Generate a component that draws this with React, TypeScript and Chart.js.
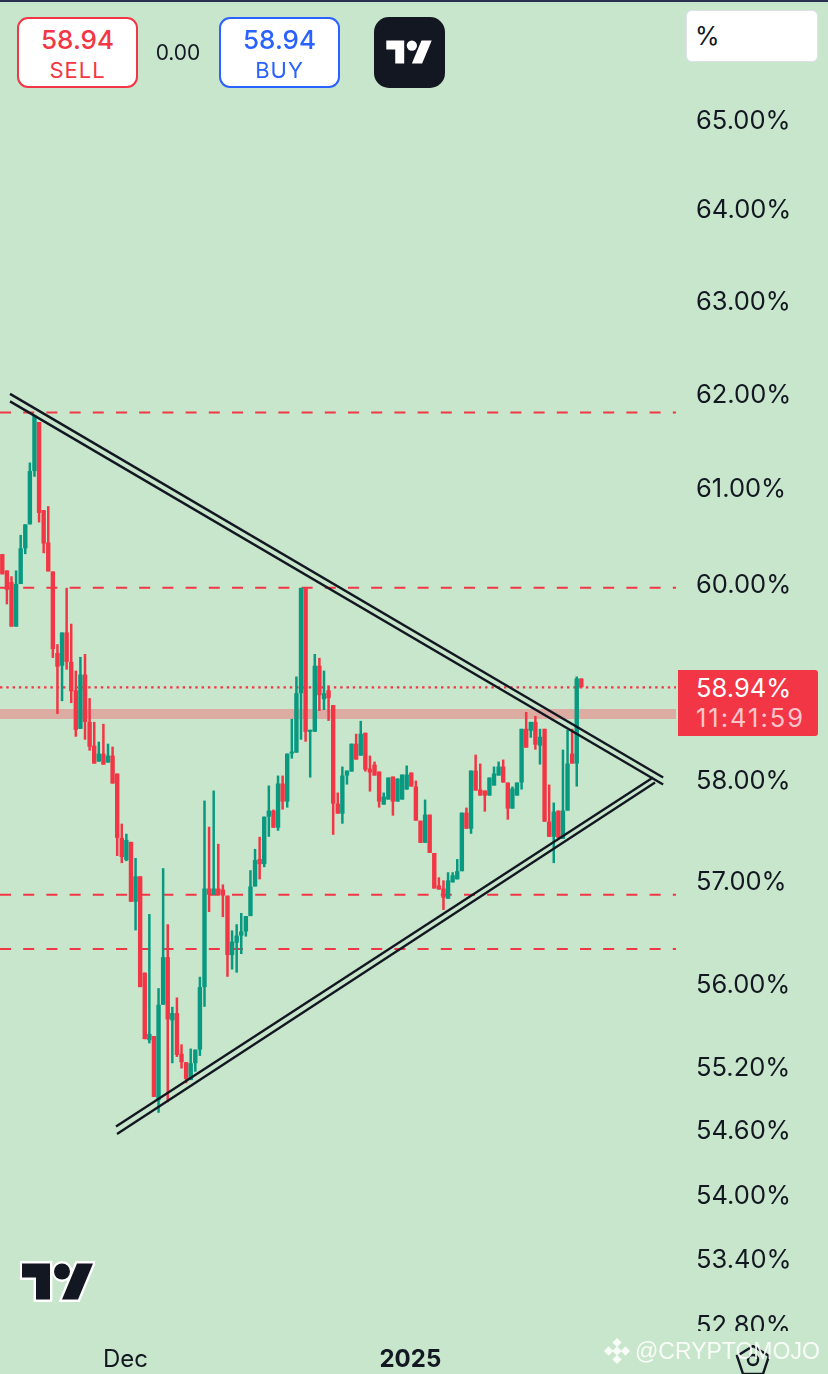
import React, { useEffect, useRef } from 'react';
import Chart from 'chart.js/auto';

// 12h candles
const opens = [
  60.31,60.14,60.02,59.56,60.00,60.37,60.62,61.18,61.70,60.77,
  60.43,60.13,59.29,59.16,59.50,59.20,58.91,58.52,59.07,58.59,
  58.35,58.19,58.27,58.18,58.25,58.07,57.43,57.21,57.39,56.80,
  57.05,56.11,55.46,55.50,54.89,55.80,56.26,55.65,55.72,55.33,
  55.25,55.08,55.24,55.37,55.97,56.93,56.87,56.93,56.92,56.86,
  56.28,56.40,56.47,56.51,56.66,56.95,57.22,57.17,57.64,57.70,
  57.53,57.97,57.79,58.27,58.28,58.88,59.96,58.49,58.49,59.16,
  58.82,58.91,58.76,57.77,57.67,58.05,58.09,58.37,58.25,58.48,
  58.12,58.16,58.09,57.76,57.81,58.04,57.79,57.81,57.91,58.08,
  57.94,57.60,57.38,57.66,57.28,56.96,56.93,56.83,56.99,57.02,
  57.10,57.68,57.52,58.10,57.91,57.90,57.85,57.95,58.05,58.14,
  57.98,57.72,57.85,57.98,58.52,58.50,58.59,58.35,58.52,57.59,
  57.44,57.70,57.42,57.70,58.27,58.17,59.03,
];
const highs = [
  60.31,60.14,60.08,60.14,60.51,60.62,61.27,61.77,61.70,60.77,
  60.81,60.13,59.38,59.50,59.96,59.59,59.11,59.25,59.28,58.83,
  58.59,58.39,58.57,58.37,58.34,58.07,57.57,57.47,57.39,57.23,
  57.05,56.11,56.68,55.50,55.96,57.13,56.58,55.78,55.87,55.42,
  55.25,55.38,55.37,56.07,57.80,57.54,57.90,57.37,56.97,56.86,
  56.52,56.58,56.69,56.66,57.11,57.32,57.44,57.64,57.95,57.71,
  58.05,58.05,58.27,58.62,59.05,59.96,59.96,58.51,59.28,59.24,
  59.11,58.96,58.76,57.88,58.14,58.10,58.37,58.47,58.60,58.48,
  58.25,58.19,58.09,57.88,58.03,58.04,58.02,58.06,58.15,58.08,
  58.00,57.60,57.81,57.66,57.28,57.04,57.01,57.09,57.09,57.22,
  57.68,57.73,58.10,58.26,58.17,57.90,58.03,58.14,58.19,58.21,
  57.98,57.94,57.98,58.52,58.69,58.59,58.65,58.52,58.52,57.96,
  57.78,57.70,58.31,58.51,58.52,59.05,59.03,
];
const lows = [
  60.10,59.79,59.56,59.56,60.00,60.31,60.62,61.12,60.64,60.32,
  60.13,59.24,58.67,58.80,59.12,58.78,58.44,58.52,58.41,58.30,
  58.17,58.19,58.16,58.18,57.97,57.25,57.18,57.20,56.80,56.52,
  55.97,55.47,55.43,54.92,54.77,55.80,54.87,55.24,55.30,55.19,
  55.05,55.08,55.16,55.31,55.78,56.70,56.87,56.87,56.65,56.07,
  56.14,56.11,56.29,56.46,56.66,56.95,57.02,57.14,57.44,57.53,
  57.50,57.71,57.73,58.22,58.28,58.41,58.39,58.03,58.49,58.70,
  58.71,58.60,57.46,57.67,57.57,57.96,58.09,58.21,58.25,58.09,
  57.89,58.05,57.73,57.76,57.81,57.65,57.79,57.81,57.91,57.94,
  57.60,57.38,57.38,57.28,56.93,56.92,56.72,56.83,56.99,57.02,
  57.10,57.52,57.47,57.90,57.85,57.69,57.85,57.95,58.05,57.98,
  57.61,57.72,57.85,57.91,58.33,58.43,58.31,58.16,57.59,57.44,
  57.18,57.43,57.42,57.70,58.17,57.94,58.94,
];
const closes = [
  60.10,59.94,59.56,60.00,60.37,60.62,61.18,61.77,60.74,60.42,
  60.13,59.33,59.15,59.50,59.20,58.90,58.51,59.07,58.59,58.34,
  58.17,58.27,58.16,58.25,57.97,57.43,57.24,57.41,56.80,57.05,
  55.97,55.47,55.52,54.92,55.80,56.26,55.66,55.72,55.32,55.25,
  55.09,55.24,55.37,55.97,56.93,56.87,56.93,56.87,56.86,56.28,
  56.41,56.47,56.51,56.66,56.95,57.21,57.17,57.64,57.70,57.53,
  57.97,57.79,58.27,58.28,58.88,59.96,58.49,58.51,59.16,58.86,
  58.88,58.83,57.77,57.67,58.05,58.10,58.37,58.21,58.47,58.11,
  58.08,58.05,57.79,57.84,58.03,57.79,58.02,58.06,58.06,57.94,
  57.60,57.38,57.66,57.28,56.93,56.92,56.84,57.01,57.06,57.10,
  57.68,57.52,58.10,57.90,57.85,57.85,58.03,58.07,58.14,57.98,
  57.72,57.92,57.98,58.52,58.33,58.59,58.36,58.44,57.59,57.44,
  57.69,57.43,57.70,58.17,58.17,59.03,58.94,
];

const yTicks = [65, 64, 63, 62, 61, 60, 58, 57, 56, 55.2, 54.6, 54, 53.4, 52.8];
const xTickValues = [26.8, 88.8];
const xTickLabels = ['Dec', '2025'];

const dashedLevels = [61.8, 59.96, 56.87, 56.34];
const lastPrice = 58.94;
const zoneLevel = 58.67;

// [candle index, price] end points of the two double trend lines
const trendLines = [
  [[1.68, 62.0], [143.8, 58.03]],
  [[1.68, 61.92], [143.8, 57.96]],
  [[24.74, 54.64], [141.6, 58.03]],
  [[24.96, 54.57], [142.04, 57.98]],
];

const X_MIN = -0.5;
const X_MAX = 146.6;
const Y_MIN = 52.747;
const Y_MAX = 66.358;

const BG = '#c8e6cb';
const GREEN = '#089981';
const RED = '#f23645';
const INK = '#131722';
const FONT = 'Inter, "Noto Sans", sans-serif';

const candleColors = closes.map((c, i) => (c >= opens[i] ? GREEN : RED));

const flatLine = (y: number) => [{ x: X_MIN, y }, { x: X_MAX, y }];

// hides the part of the price labels that falls under the time axis
const timeAxisStrip = {
  id: 'timeAxisStrip',
  afterDatasetsDraw(chart: Chart) {
    const { ctx, chartArea } = chart;
    ctx.save();
    ctx.fillStyle = BG;
    ctx.fillRect(0, chartArea.bottom, chart.width, chart.height - chartArea.bottom);
    ctx.restore();
  },
};

const box = (style: React.CSSProperties): React.CSSProperties => ({
  position: 'absolute',
  boxSizing: 'border-box',
  fontFamily: FONT,
  ...style,
});

const TvLogo: React.FC<{ style: React.CSSProperties; fill: string; outline?: string }> = ({ style, fill, outline }) => (
  <svg viewBox="-1 3 37.5 20" style={{ position: 'absolute', ...style }}>
    <g fill={fill} stroke={outline || 'none'} strokeWidth={outline ? 2.4 : 0} paintOrder="stroke">
      <path d="M14 22H7V11H0V4h14v18z" />
      <path d="M28 22h-8l7.5-18h8L28 22z" />
      <circle cx="20" cy="8" r="4" />
    </g>
  </svg>
);

const QuoteButton: React.FC<{ left: number; color: string; label: string }> = ({ left, color, label }) => (
  <div
    style={box({
      left,
      top: 17,
      width: 121,
      height: 71,
      background: '#fff',
      border: `2px solid ${color}`,
      borderRadius: 11,
      color,
      textAlign: 'center',
    })}
  >
    <div style={{ fontSize: 26, fontWeight: 500, lineHeight: '30px', marginTop: 6 }}>{lastPrice.toFixed(2)}</div>
    <div style={{ fontSize: 22, letterSpacing: 1, lineHeight: '26px', marginTop: 2 }}>{label}</div>
  </div>
);

const App: React.FC = () => {
  const canvasRef = useRef<HTMLCanvasElement | null>(null);

  useEffect(() => {
    const ctx = canvasRef.current?.getContext('2d');
    if (!ctx) return;

    const lineStyle = { type: 'line' as const, pointRadius: 0, fill: false, tension: 0 };

    const chart = new Chart(ctx, {
      type: 'bar',
      data: {
        datasets: [
          {
            ...lineStyle,
            data: flatLine(zoneLevel),
            borderColor: '#dcaca2',
            borderWidth: 10,
            order: 6,
          },
          ...dashedLevels.map((level) => ({
            ...lineStyle,
            data: flatLine(level),
            borderColor: RED,
            borderWidth: 2,
            borderDash: [11, 12.2],
            order: 5,
          })),
          {
            ...lineStyle,
            data: flatLine(lastPrice),
            borderColor: RED,
            borderWidth: 2.4,
            borderDash: [2.4, 3.9],
            order: 5,
          },
          {
            data: highs.map((h, i) => ({ x: i, y: [lows[i], h] })),
            backgroundColor: candleColors,
            barThickness: 2.5,
            grouped: false,
            inflateAmount: 0,
            order: 3,
          },
          {
            data: opens.map((o, i) => ({ x: i, y: [o, closes[i]] })),
            backgroundColor: candleColors,
            barThickness: 4.4,
            minBarLength: 2,
            grouped: false,
            inflateAmount: 0,
            order: 2,
          },
          ...trendLines.map((line) => ({
            ...lineStyle,
            data: line.map(([x, y]) => ({ x, y })),
            borderColor: INK,
            borderWidth: 2.4,
            order: 1,
          })),
        ] as any,
      },
      options: {
        animation: false,
        responsive: false,
        layout: { padding: 0 },
        plugins: { legend: { display: false }, tooltip: { enabled: false } },
        scales: {
          x: {
            type: 'linear',
            offset: false,
            min: X_MIN,
            max: X_MAX,
            grid: { display: false, drawTicks: false },
            border: { display: false },
            afterBuildTicks: (scale: any) => {
              scale.ticks = xTickValues.map((value) => ({ value }));
            },
            afterFit: (scale: any) => {
              scale.height = 43;
              scale.paddingLeft = 0;
              scale.paddingRight = 0;
            },
            ticks: {
              z: 1,
              autoSkip: false,
              maxRotation: 0,
              padding: 14,
              color: INK,
              font: (c: any) => ({ family: FONT, size: 24, weight: c.index === 1 ? 'bold' : 'normal' }),
              callback: (_v: any, i: number) => xTickLabels[i],
            },
          },
          y: {
            type: 'logarithmic',
            position: 'right',
            beginAtZero: false,
            min: Y_MIN,
            max: Y_MAX,
            grid: { display: false, drawTicks: false },
            border: { display: false },
            afterBuildTicks: (scale: any) => {
              scale.ticks = yTicks.map((value) => ({ value }));
            },
            afterFit: (scale: any) => {
              scale.width = 152;
              scale.paddingTop = 0;
              scale.paddingBottom = 0;
            },
            ticks: {
              autoSkip: false,
              padding: 20,
              labelOffset: 1,
              color: INK,
              font: { family: FONT, size: 25.5 },
              callback: (v: any) => `${Number(v).toFixed(2)}%`,
            },
          },
        },
      },
      plugins: [timeAxisStrip],
    } as any);

    return () => chart.destroy();
  }, []);

  return (
    <div style={{ position: 'absolute', left: 0, top: 0, width: 828, height: 1374, background: BG, overflow: 'hidden' }}>
      <canvas ref={canvasRef} width={828} height={1374} style={{ position: 'absolute', left: 0, top: 0 }} />
      <div style={box({ left: 0, top: 0, width: 828, height: 2, background: '#2a2e50' })} />

      <QuoteButton left={17} color={RED} label="SELL" />
      <div style={box({ left: 140, top: 40, width: 76, textAlign: 'center', fontSize: 21, lineHeight: '26px', color: INK })}>
        0.00
      </div>
      <QuoteButton left={219} color="#2962ff" label="BUY" />
      <div style={box({ left: 374, top: 17, width: 71, height: 71, borderRadius: 15, background: INK })} />
      <TvLogo fill="#fff" style={{ left: 385, top: 39, width: 48, height: 26 }} />

      <div
        style={box({
          left: 686,
          top: 10,
          width: 132,
          height: 52,
          background: '#fff',
          border: '1px solid #dfdfee',
          borderRadius: 6,
          paddingLeft: 8,
          fontSize: 25,
          lineHeight: '50px',
          color: INK,
        })}
      >
        %
      </div>

      <div
        style={box({
          left: 678,
          top: 670,
          width: 140,
          height: 66,
          background: RED,
          borderRadius: '0 3px 3px 0',
          paddingLeft: 18,
          fontSize: 25.5,
          lineHeight: '30px',
          color: '#fff',
        })}
      >
        <div style={{ marginTop: 3 }}>{lastPrice.toFixed(2)}%</div>
        <div style={{ color: '#fbc6cb', letterSpacing: 2 }}>11:41:59</div>
      </div>

      <TvLogo fill={INK} outline="#fff" style={{ left: 20, top: 1261, width: 75, height: 41 }} />

      <svg viewBox="0 0 36 30" style={{ position: 'absolute', left: 735, top: 1345, width: 36, height: 30 }}>
        <path d="M18 1L34 11L28 29H8L2 11Z" fill="none" stroke={INK} strokeWidth="2.4" />
        <circle cx="18" cy="15" r="5" fill="none" stroke={INK} strokeWidth="2.4" />
      </svg>
      <svg viewBox="0 0 30 30" style={{ position: 'absolute', left: 603, top: 1337, width: 28, height: 28 }}>
        <path
          d="M15 1l5 5-5 5-5-5zM6 10l5 5-5 5-5-5zM24 10l5 5-5 5-5-5zM15 10l5 5-5 5-5-5zM15 19l5 5-5 5-5-5z"
          fill="rgba(255,255,255,0.85)"
        />
      </svg>
      <div
        style={box({
          left: 635,
          top: 1336,
          fontSize: 23,
          lineHeight: '30px',
          color: 'rgba(255,255,255,0.88)',
          whiteSpace: 'nowrap',
          fontFamily: '"Liberation Sans", sans-serif',
        })}
      >
        @CRYPTOMOJO
      </div>
    </div>
  );
};

export default App;
